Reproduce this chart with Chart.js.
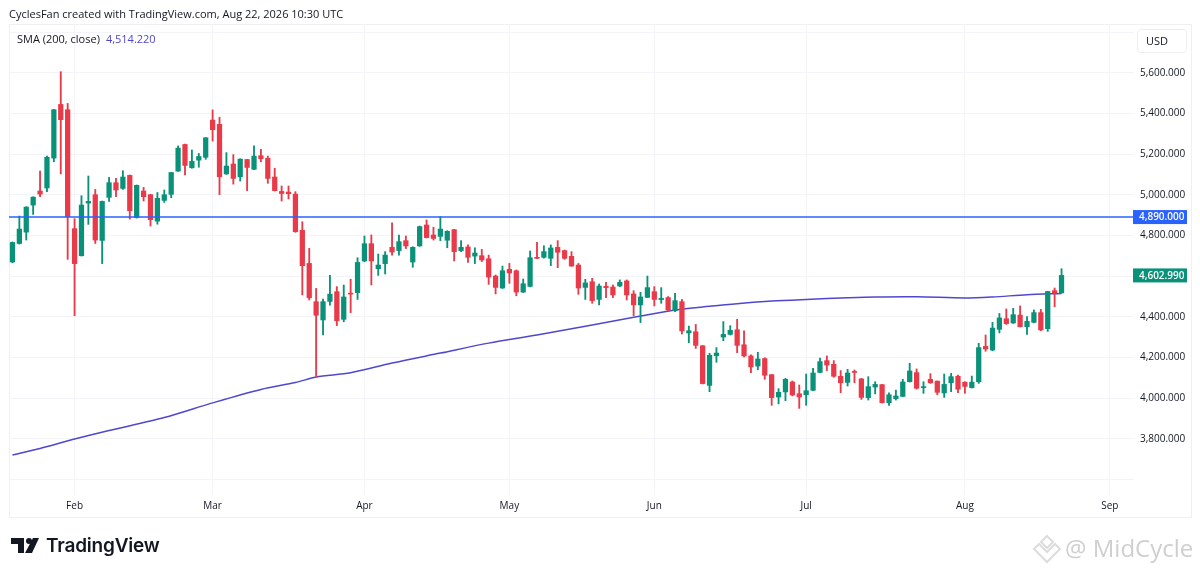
<!DOCTYPE html>
<html>
<head>
<meta charset="utf-8">
<title>Gold daily chart</title>
<script src="https://cdn.jsdelivr.net/npm/chart.js@4/dist/chart.umd.min.js"></script>
<style>
  body { margin: 0; background: #fff; color: #131722; font-family: "Open Sans", sans-serif; }
  #wrap { position: relative; width: 1200px; height: 574px; overflow: hidden; }
  canvas { position: absolute; left: 0; top: 0; }
  .txt { position: absolute; white-space: nowrap; }
  #created { left: 9px; top: 6px; font-size: 11px; line-height: 16px; }
  #legend { left: 17px; top: 31px; font-size: 11px; line-height: 16px; }
  #legend span { color: #4f48cf; margin-left: 6px; }
  #usd { left: 1137px; top: 29px; width: 50px; height: 24px; box-sizing: border-box; border: 1px solid #eceef3; border-radius: 4px; font-size: 11px; line-height: 22px; padding-left: 8px; }
  #brand { left: 46px; top: 533px; font-family: Inter, sans-serif; font-weight: 600; font-size: 19px; line-height: 26px; color: #131722; letter-spacing: -0.2px; }
  #mark { left: 1065px; top: 530px; font-size: 24px; line-height: 36px; color: #cfcfcf; }
  svg { position: absolute; }
</style>
</head>
<body>
<div id="wrap">
  <canvas id="chart" width="1200" height="574"></canvas>
  <div class="txt" id="created">CyclesFan created with TradingView.com, Aug 22, 2026 10:30 UTC</div>
  <div class="txt" id="legend">SMA (200, close)<span>4,514.220</span></div>
  <div class="txt" id="usd">USD</div>
  <svg style="left:11px;top:538px" width="28" height="15" viewBox="0 0 28 15">
    <path d="M0 0H13V15H7V6H0Z" fill="#131722"/>
    <circle cx="18" cy="3" r="3" fill="#131722"/>
    <path d="M22 0H28L21 15H14Z" fill="#131722"/>
  </svg>
  <div class="txt" id="brand">TradingView</div>
  <svg style="left:1032px;top:534px" width="30" height="30" viewBox="0 0 30 30" fill="none" stroke="#dcdcdc" stroke-width="2">
    <path d="M15 2L21 8L15 14L9 8Z"/><path d="M7 10L13 16L15 18L17 16L23 10L28 15L15 28L2 15Z"/>
  </svg>
  <div class="txt" id="mark">@ MidCycle</div>
</div>
<script>
const opens = [
  4669,4760,4816,4949,5018,5033,5180,5444,5418,4833,
  4700,4959,5000,4775,4987,5059,5031,5095,4888,5018,
  5000,4870,4972,5002,5116,5247,5133,5170,5184,5367,
  5346,5102,5151,5088,5173,5125,5192,5179,5087,5016,
  5013,5003,4825,4662,4474,4384,4475,4523,4387,4516,
  4518,4674,4759,4636,4661,4741,4725,4774,4669,4748,
  4851,4802,4795,4776,4828,4725,4743,4698,4700,4685,
  4600,4541,4633,4626,4521,4549,4692,4692,4687,4741,
  4725,4697,4654,4544,4572,4485,4549,4546,4551,4576,
  4512,4458,4495,4523,4484,4494,4430,4474,4320,4326,
  4257,4062,4208,4300,4313,4336,4262,4207,4157,4194,
  4115,4005,4030,4079,4021,4016,4038,4126,4184,4166,
  4107,4077,4131,4094,4002,4054,4066,3977,3997,4008,
  4080,4125,4051,4092,4083,4025,4075,4107,4078,4051,
  4080,4254,4236,4338,4390,4369,4408,4351,4372,4420,
  4341,4528,4517
];
const highs = [
  4768,4895,4941,4990,5116,5190,5420,5605,5449,4882,
  4995,5092,5026,4969,5085,5080,5118,5097,5048,5036,
  5002,5011,5023,5110,5240,5249,5220,5203,5281,5417,
  5381,5207,5197,5177,5174,5240,5223,5190,5130,5043,
  5043,5015,4867,4736,4539,4487,4603,4548,4556,4584,
  4690,4797,4802,4708,4720,4862,4802,4797,4744,4846,
  4876,4840,4892,4823,4830,4774,4753,4739,4731,4703,
  4605,4649,4662,4630,4585,4723,4766,4749,4753,4774,
  4728,4720,4662,4584,4589,4561,4569,4556,4581,4581,
  4528,4520,4600,4548,4543,4499,4515,4485,4354,4362,
  4258,4220,4248,4376,4356,4387,4331,4212,4225,4198,
  4116,4046,4097,4084,4064,4118,4146,4197,4207,4184,
  4135,4141,4138,4097,4105,4080,4067,4026,4039,4092,
  4171,4143,4080,4120,4084,4118,4121,4113,4080,4108,
  4269,4310,4372,4416,4438,4441,4453,4400,4433,4436,
  4525,4541,4636
];
const lows = [
  4665,4757,4777,4903,4990,5015,5162,5102,4682,4405,
  4698,4854,4760,4661,4967,4990,5026,4880,4885,4969,
  4846,4855,4962,4985,5115,5097,5130,5135,5174,5264,
  5000,5100,5052,5067,5020,5123,5162,5056,5018,4969,
  4979,4815,4507,4482,4105,4310,4457,4356,4375,4420,
  4485,4670,4556,4603,4610,4703,4702,4735,4643,4746,
  4787,4777,4774,4739,4674,4720,4667,4661,4671,4559,
  4512,4539,4564,4503,4519,4547,4685,4688,4651,4641,
  4682,4648,4510,4485,4466,4458,4494,4494,4548,4482,
  4405,4371,4494,4453,4466,4430,4425,4315,4272,4244,
  4069,4031,4176,4282,4310,4223,4202,4125,4139,4092,
  3964,3971,3987,4010,3949,3964,4036,4125,4135,4102,
  4026,4059,4075,3993,3990,4020,3975,3964,3990,4007,
  4079,4044,4023,4072,4016,4003,4031,4026,4023,4049,
  4072,4230,4233,4320,4362,4367,4349,4313,4370,4331,
  4328,4449,4516
];
const closes = [
  4765,4831,4939,4988,5003,5184,5418,5369,4892,4661,
  4949,4967,4777,4967,5059,5023,5087,4921,5046,4990,
  4877,4982,5000,5109,5229,5144,5164,5188,5280,5320,
  5088,5141,5080,5175,5134,5190,5177,5080,5020,5006,
  5005,4818,4651,4493,4407,4474,4511,4380,4497,4511,
  4667,4759,4674,4654,4703,4718,4769,4748,4741,4843,
  4789,4785,4831,4820,4720,4741,4692,4713,4679,4595,
  4544,4626,4615,4521,4562,4690,4687,4720,4738,4717,
  4687,4649,4541,4566,4479,4551,4543,4507,4569,4507,
  4458,4497,4543,4485,4490,4433,4479,4330,4331,4259,
  4071,4210,4221,4313,4333,4259,4207,4153,4192,4112,
  4002,4028,4092,4015,4005,4036,4123,4179,4162,4107,
  4075,4123,4126,4003,4056,4067,3977,4016,4010,4079,
  4133,4048,4056,4075,4028,4067,4105,4043,4057,4078,
  4248,4241,4344,4394,4366,4410,4351,4377,4420,4335,
  4524,4518,4602.99
];

const smaBars = [0,4,9,14,22,29,36,41,44,49,55,62,69,76,84,91,96,101,105,110,115,121,125,131,138,142,147,152];
const smaValues = [3720,3752,3798,3840,3904,3976,4042,4076,4103,4124,4172,4221,4270,4310,4359,4403,4433,4451,4464,4477,4485,4493,4497,4498,4492,4497,4508,4514.22];

const monthNames = ['Feb','Mar','Apr','May','Jun','Jul','Aug','Sep'];
const monthBars = [9,29,51,72,93,115,138,159];
const priceTicks = [3600,3800,4000,4200,4400,4600,4800,5000,5200,5400,5600,5800];
const hiddenTicks = [3600,5800];   // grid line only, no label
const resistance = 4890;
const barSlots = 163;              // includes the empty space to the right

const UP = '#0a9179', DOWN = '#e93a4a', GRID = '#f2f4f9', BLUE = '#2962FF', SMA = '#4f48cf';
const FONT = '"Open Sans", sans-serif';

const labels = Array.from({ length: barSlots }, (_, i) => i);
const colors = opens.map((o, i) => closes[i] >= o ? UP : DOWN);
const smaData = labels.map(() => null);
smaBars.forEach((b, i) => { smaData[b] = smaValues[i]; });

const fmt = v => v.toLocaleString('en-US', { minimumFractionDigits: 3, maximumFractionDigits: 3 });

// frame, resistance line and the two price badges
const overlay = {
  id: 'overlay',
  beforeDraw(chart) {
    const c = chart.ctx;
    c.save();
    c.strokeStyle = '#eef0f5';
    c.lineWidth = 1;
    c.strokeRect(9.5, 24.5, 1182, 493);
    c.restore();
  },
  afterDatasetsDraw(chart) {
    const c = chart.ctx, a = chart.chartArea, y = chart.scales.y;
    const ly = y.getPixelForValue(resistance);
    c.save();
    c.strokeStyle = BLUE;
    c.lineWidth = 1.5;
    c.beginPath();
    c.moveTo(a.left, ly);
    c.lineTo(a.right, ly);
    c.stroke();
    c.restore();
  },
  afterDraw(chart) {
    const c = chart.ctx, y = chart.scales.y;
    const badge = (value, bg) => {
      const py = y.getPixelForValue(value);
      c.fillStyle = bg;
      c.fillRect(1133, py - 7, 54, 14);
      c.fillStyle = '#fff';
      c.font = '600 10px ' + FONT;
      c.textBaseline = 'middle';
      c.fillText(fmt(value), 1139, py + 0.5);
    };
    c.save();
    badge(resistance, BLUE);
    badge(closes[closes.length - 1], UP);
    c.restore();
  }
};

new Chart(document.getElementById('chart'), {
  type: 'bar',
  plugins: [overlay],
  data: {
    labels,
    datasets: [
      { type: 'bar', data: opens.map((o, i) => [o, closes[i]]), backgroundColor: colors, barThickness: 4.6, borderWidth: 0, grouped: false, order: 1 },
      { type: 'bar', data: lows.map((l, i) => [l, highs[i]]), backgroundColor: colors, barThickness: 1.2, borderWidth: 0, grouped: false, order: 2 },
      { type: 'line', data: smaData, borderColor: SMA, borderWidth: 1.5, pointRadius: 0, spanGaps: true, tension: 0.3, order: 3 }
    ]
  },
  options: {
    responsive: false,
    animation: false,
    layout: { padding: { left: 9, right: 9, top: 24, bottom: 57 } },
    plugins: { legend: { display: false }, tooltip: { enabled: false } },
    scales: {
      x: {
        type: 'category',
        afterBuildTicks: ax => { ax.ticks = monthBars.map(v => ({ value: v })); },
        afterFit: ax => { ax.height = 22; },
        grid: { color: GRID, offset: false, drawTicks: false },
        border: { display: false },
        ticks: {
          autoSkip: false, maxRotation: 0, padding: 5, color: '#131722',
          font: { family: FONT, size: 10 },
          callback: v => monthNames[monthBars.indexOf(v)]
        }
      },
      y: {
        position: 'right',
        min: 3523,
        max: 5839.6,
        afterBuildTicks: ax => { ax.ticks = priceTicks.map(v => ({ value: v })); },
        afterFit: ax => { ax.width = 57; },
        grid: { color: GRID, drawTicks: false },
        border: { display: false },
        ticks: {
          padding: 6, color: '#131722',
          font: { family: FONT, size: 10 },
          callback: v => hiddenTicks.includes(v) ? '' : fmt(v)
        }
      }
    }
  }
});
</script>
</body>
</html>
